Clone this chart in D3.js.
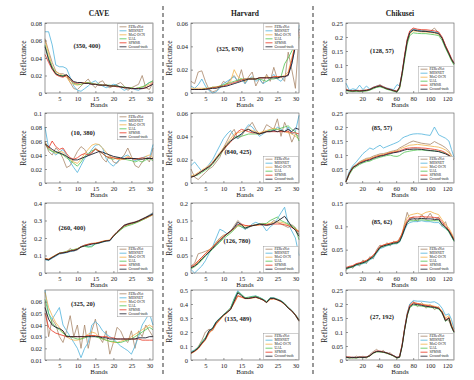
<!DOCTYPE html>
<html>
<head>
<meta charset="utf-8">
<script src="https://cdn.jsdelivr.net/npm/d3@7"></script>
<style>body{margin:0;background:#fff}</style>
</head>
<body>
<div id="chart"></div>
<script>
var W = 474, H = 380;

var methods = ["PZResNet", "MHSNET", "MoG-DCN", "UAL", "SPMSR", "Ground-truth"];
var colors = ["#a8876a", "#4fb3dc", "#f2b24a", "#52c452", "#e8321e", "#1c1c2c"];
var datasets = ["CAVE", "Harvard", "Chikusei"];

var bandsS = [1,2,3,4,5,6,7,8,9,10,11,12,13,14,15,16,17,18,19,20,21,22,23,24,25,26,27,28,29,30,31];
var bandsC = [1,5,9,13,17,21,25,29,33,37,41,45,49,53,57,61,64,67,70,73,76,80,85,90,95,100,105,110,114,118,122,125,128];
var xTicksS = [5,10,15,20,25,30];
var xTicksC = [20,40,60,80,100,120];

// reflectance x 1e-3, order: PZResNet, MHSNET, MoG-DCN, UAL, SPMSR, Ground-truth
var cave1 = [
  [62,48,35,25,22,22,20,12,5,4,8,12,16,10,6,12,14,8,6,8,10,12,8,3,6,8,10,20,6,4,12],
  [70,70,55,32,30,30,28,18,8,3,2,5,8,12,14,10,8,6,8,10,9,6,3,5,6,4,3,6,9,12,13],
  [60,45,30,24,22,20,18,12,10,9,10,12,12,11,10,10,9,9,8,8,8,7,6,6,6,5,6,7,8,10,14],
  [55,40,30,22,20,20,20,15,11,10,10,11,12,11,10,10,9,9,9,8,8,7,7,6,6,5,6,7,9,12,14],
  [44,35,27,21,19,18,20,15,12,11,12,11,11,10,10,9,9,9,8,8,7,7,6,6,5,5,5,5,6,8,12],
  [53,38,28,22,20,19,21,17,13,12,12,11,11,10,10,9,9,9,8,8,8,7,6,6,5,5,5,5,6,8,10]
];
var harv1 = [
  [10,8,18,19,10,3,1,2,5,10,8,12,15,10,20,8,14,18,6,12,8,16,10,22,12,14,10,35,20,4,50],
  [6,4,7,12,6,2,0,1,4,8,10,12,14,10,12,8,12,14,10,12,8,10,12,16,12,10,14,16,25,40,58],
  [4,4,4,4,4,4,5,5,6,6,8,10,20,14,12,10,12,13,12,13,13,14,13,14,14,14,15,18,30,42,50],
  [3,3,3,3,4,4,5,5,6,7,8,9,10,11,12,12,12,12,12,12,11,10,12,12,13,14,25,30,36,42,48],
  [3,3,3,3,3.5,4,4.5,5,5.5,6,7,8,9,10,11,12,12,12,12,13,13,13,13,14,14,14,14,16,28,42,52],
  [3,3,3,3,3,3.5,4,4,5,5.5,6,7,8,9,10,11,12,12,12,13,13,13,13,13,13,14,14,15,25,40,55]
];
var chik1 = [
  [14,9,9,10,9,10,11,14,20,24,30,22,16,14,10,7,22,72,134,190,220,228,225,224,222,220,232,214,198,168,142,120,106],
  [35,10,15,12,28,12,25,14,20,25,28,22,18,15,12,30,25,72,132,188,218,228,224,222,220,220,218,215,198,168,142,122,106],
  [10,7,6,7,6,7,8,11,17,21,24,19,14,11,7,4,18,68,128,182,212,222,220,218,218,216,214,210,194,164,138,118,104],
  [8,6,5,6,5,6,7,10,15,20,22,18,13,10,6,3,15,62,120,175,205,215,213,212,212,210,208,205,188,160,135,115,100],
  [12,9,8,9,8,9,10,13,20,24,27,22,17,13,9,6,22,75,138,192,222,232,228,226,226,224,222,218,200,170,145,124,108],
  [10,8,7,8,7,8,9,12,18,22,25,20,15,12,8,5,20,70,130,185,215,225,222,220,220,218,216,212,195,165,140,120,105]
];
var cave2 = [
  [60,45,40,50,45,35,22,25,35,45,52,48,40,42,50,45,35,30,40,30,28,35,40,50,38,25,22,30,36,30,50],
  [80,50,45,40,44,48,40,30,22,15,25,35,40,48,54,55,50,35,28,24,30,35,38,40,35,32,34,36,38,35,55],
  [58,50,46,42,45,44,38,34,30,28,34,42,48,54,56,55,50,44,38,36,34,33,35,38,36,34,35,34,38,40,36],
  [56,48,45,44,42,40,36,32,28,24,30,38,42,46,48,46,42,38,35,34,36,35,34,33,32,30,32,30,33,35,32],
  [55,50,60,52,48,50,42,36,34,36,40,42,40,44,48,46,42,38,36,36,35,35,34,36,35,34,35,36,35,36,34],
  [56,52,48,45,43,41,38,35,33,33,35,37,39,41,43,45,44,42,40,38,37,36,35,35,35,35,34,34,35,35,35]
];
var harv2 = [
  [12,5,3,6,9,12,14,18,22,30,36,42,46,38,40,45,48,52,46,42,44,50,48,46,55,40,52,45,35,42,40],
  [15,18,14,10,12,16,20,26,32,38,42,45,40,38,42,46,50,48,44,40,42,44,46,44,48,46,44,48,42,44,58],
  [6,7,9,11,13,15,18,22,26,30,34,38,42,43,44,45,46,45,44,43,44,45,46,47,46,45,44,43,42,40,38],
  [5,6,7,9,11,13,16,20,24,28,32,36,39,40,40,41,42,42,42,42,43,44,45,46,46,47,48,49,46,44,36],
  [5,6,8,10,12,14,17,21,25,28,32,35,40,44,46,45,44,43,43,42,43,44,44,44,44,44,44,44,43,43,42],
  [5,6,8,10,12,14,17,21,25,29,33,36,38,40,42,45,46,44,43,42,43,44,44,45,44,45,44,46,44,47,46]
];
var chik2 = [
  [5,38,58,66,76,82,88,90,96,100,104,105,108,112,115,118,125,130,135,140,145,150,146,142,140,138,148,140,134,126,114,98,88],
  [8,42,62,75,90,105,115,125,120,128,135,125,130,135,140,145,150,160,165,168,172,175,176,175,172,170,200,172,166,160,150,120,92],
  [6,36,56,64,74,80,85,88,92,97,100,102,106,110,112,115,120,125,128,132,135,136,138,136,134,132,130,128,124,118,108,95,86],
  [4,30,50,58,66,72,76,78,84,88,92,95,98,100,96,95,98,105,110,112,114,116,118,118,116,115,115,113,110,106,100,92,84],
  [4,34,55,63,72,78,82,85,90,95,98,100,104,108,110,112,115,118,122,124,125,126,126,125,124,122,120,117,114,108,100,92,84],
  [5,35,55,62,70,75,80,82,88,92,96,98,102,105,108,110,112,115,118,120,120,121,121,120,118,116,114,112,108,104,98,90,82]
];
var cave3 = [
  [78,74,86,98,110,114,120,140,125,132,150,160,165,170,168,174,180,184,188,215,236,255,275,282,288,292,300,310,320,332,345],
  [76,72,84,96,108,112,116,122,126,134,152,156,150,155,166,170,176,182,184,208,230,250,268,276,282,288,296,306,316,330,342],
  [84,80,92,104,114,117,122,128,132,138,150,156,162,168,172,176,182,186,188,212,230,248,266,274,280,286,294,304,312,322,332],
  [80,76,90,102,114,118,124,130,134,140,150,152,148,150,166,172,178,184,186,210,228,246,262,270,276,284,292,302,312,324,334],
  [82,78,90,102,113,116,120,127,130,137,150,158,164,168,170,174,180,185,186,212,233,253,270,278,284,290,297,306,315,325,335],
  [80,75,88,100,112,115,118,125,128,135,148,155,160,165,168,172,178,183,185,210,232,252,272,280,285,290,298,308,318,328,338]
];
var harv3 = [
  [20,28,55,58,62,66,72,88,100,108,110,118,135,150,140,125,130,135,138,140,142,138,140,150,145,140,135,130,138,130,110],
  [10,0,10,20,35,55,75,100,125,120,112,118,128,140,132,125,130,140,145,140,135,120,132,140,155,172,188,140,120,100,50],
  [15,22,32,44,56,66,76,86,96,106,112,118,126,134,136,134,134,135,136,137,138,140,142,145,146,145,142,138,132,126,120],
  [12,18,26,36,48,58,68,78,88,98,106,114,124,136,132,128,132,136,138,140,140,142,150,155,160,150,145,140,135,128,95],
  [18,24,35,45,55,64,74,84,94,104,112,120,128,138,140,136,135,136,137,138,138,138,139,140,140,140,138,135,130,124,118],
  [15,20,28,40,50,60,70,82,92,102,112,120,130,145,138,128,132,135,137,140,138,136,138,142,148,155,162,148,132,122,105]
];
var chik3 = [
  [5,15,10,20,15,28,20,35,30,50,60,55,65,58,68,62,75,82,108,130,115,120,110,125,115,128,112,120,100,110,88,84,68],
  [8,11,13,16,18,20,22,28,32,42,52,55,58,60,62,63,66,78,92,104,108,110,110,112,110,110,108,108,100,95,88,78,68],
  [10,13,15,19,21,24,27,31,37,46,56,60,62,64,66,68,72,86,104,118,124,126,128,125,130,132,128,125,114,104,96,86,74],
  [9,11,13,17,19,21,24,29,34,44,54,57,59,61,63,64,67,80,96,108,112,112,113,114,113,112,112,112,104,96,88,78,68],
  [12,14,16,20,22,24,27,32,38,47,57,60,62,64,66,67,72,85,100,112,118,120,120,121,120,120,119,118,110,100,92,82,72],
  [10,12,14,18,20,22,25,30,35,45,55,58,60,62,64,65,68,80,95,108,115,116,116,117,116,116,115,115,105,98,90,80,70]
];
var cave4 = [
  [60,30,45,40,30,25,35,48,30,40,20,40,20,35,45,30,25,35,15,25,38,35,28,25,35,20,35,30,40,35,30],
  [70,50,45,50,55,40,35,30,25,20,12,20,25,40,43,40,35,32,30,28,25,22,20,18,15,22,30,40,45,50,40],
  [68,55,48,42,38,34,30,28,27,27,28,30,32,34,33,30,28,27,26,25,25,26,27,28,30,32,34,36,38,40,38],
  [62,50,42,38,36,33,31,30,29,28,28,29,30,31,30,29,28,27,26,26,25,25,26,27,28,30,32,34,36,38,36],
  [50,38,35,33,32,31,30,30,30,30,30,30,31,31,31,30,30,30,29,29,28,28,28,28,28,28,28,27,27,27,27],
  [55,45,40,38,37,35,30,30,30,30,30,30,30,30,30,30,29,29,28,28,28,28,28,28,28,28,29,29,29,30,30]
];
var harv4 = [
  [55,70,95,140,200,220,210,260,290,325,345,370,430,490,465,440,442,450,455,445,432,415,445,442,432,420,402,375,352,318,275],
  [60,72,90,125,160,200,230,275,300,322,345,372,440,495,470,445,448,455,458,448,435,418,445,445,435,425,405,378,355,325,290],
  [45,60,80,112,142,190,215,255,285,315,335,360,405,455,448,438,438,442,446,438,428,410,432,436,428,416,396,370,350,320,282],
  [52,68,90,128,160,205,228,272,298,322,345,372,435,485,468,445,448,452,456,446,434,416,442,442,434,422,404,376,354,324,288],
  [48,62,82,115,145,195,220,260,290,318,340,365,410,460,450,440,440,445,448,440,428,412,435,438,430,418,398,372,352,322,285],
  [50,65,85,120,150,210,225,270,295,320,340,360,420,480,460,440,440,445,450,440,430,410,440,440,430,420,400,370,350,320,280]
];
var chik4 = [
  [8,12,6,14,8,14,6,20,30,38,28,34,22,26,12,10,14,55,112,162,200,210,190,205,185,198,180,190,165,148,140,118,98],
  [10,9,10,9,11,10,11,16,26,31,31,29,26,21,16,9,12,52,115,168,200,212,210,210,208,206,208,200,185,160,165,145,110],
  [9,8,9,8,10,9,10,14,24,30,30,28,24,20,14,7,10,52,112,162,192,204,202,200,198,196,192,188,175,150,158,128,105],
  [9,7,8,7,9,8,9,14,24,29,29,27,24,19,14,7,9,48,108,158,186,196,194,192,190,188,186,182,168,138,148,118,98],
  [12,10,10,9,11,10,11,16,26,32,32,29,26,21,16,9,12,55,115,165,195,205,202,198,195,193,190,186,172,142,152,122,102],
  [10,8,9,8,10,9,10,15,25,30,30,28,25,20,15,8,10,50,110,160,190,200,198,195,192,190,188,184,170,140,150,120,100]
];

var yTicks = {
  a: [0,0.02,0.04,0.06,0.08],
  b: [0,0.02,0.04,0.06],
  c: [0,0.05,0.1,0.15,0.2,0.25],
  d: [0,0.02,0.04,0.06,0.08,0.1],
  e: [0,0.1,0.2,0.3,0.4],
  f: [0,0.05,0.1,0.15,0.2],
  g: [0,0.05,0.1,0.15],
  h: [0.01,0.02,0.03,0.04,0.05,0.06],
  i: [0,0.1,0.2,0.3,0.4,0.5]
};

var panels = [
  {col:0,row:0,d:cave1,y:[0,0.08],t:"a",lab:"(350, 400)",lx:42,ly:24,leg:"top"},
  {col:1,row:0,d:harv1,y:[0,0.06],t:"b",lab:"(325, 670)",lx:39,ly:27,leg:"top"},
  {col:2,row:0,d:chik1,y:[0,0.25],t:"c",lab:"(128, 57)",lx:36,ly:29,leg:"bottom"},
  {col:0,row:1,d:cave2,y:[0,0.1],t:"d",lab:"(10, 380)",lx:38,ly:21,leg:"top"},
  {col:1,row:1,d:harv2,y:[0,0.06],t:"b",lab:"(840, 425)",lx:47,ly:40,leg:"bottom"},
  {col:2,row:1,d:chik2,y:[0,0.25],t:"c",lab:"(85, 57)",lx:36,ly:16,leg:"bottom"},
  {col:0,row:2,d:cave3,y:[0,0.4],t:"e",lab:"(260, 400)",lx:27,ly:26,leg:"bottom"},
  {col:1,row:2,d:harv3,y:[0,0.2],t:"f",lab:"(126, 780)",lx:46,ly:39,leg:"bottom"},
  {col:2,row:2,d:chik3,y:[0,0.15],t:"g",lab:"(85, 62)",lx:36,ly:20,leg:"bottom"},
  {col:0,row:3,d:cave4,y:[0.01,0.07],t:"h",lab:"(325, 20)",lx:38,ly:15,leg:"top"},
  {col:1,row:3,d:harv4,y:[0,0.5],t:"i",lab:"(135, 489)",lx:47,ly:30,leg:"bottom"},
  {col:2,row:3,d:chik4,y:[0,0.25],t:"c",lab:"(27, 192)",lx:36,ly:28,leg:"bottom"}
];

var colLeft = [45, 191, 346];
var rowTop = [23, 113, 203, 290];
var pw = 108, ph = 70;
var serif = "Liberation Serif, Times New Roman, serif";

var svg = d3.select("#chart").append("svg")
    .attr("width", W)
    .attr("height", H)
    .style("font-family", serif);

// dashed column separators
[163, 313].forEach(function (sx) {
  svg.append("line")
      .attr("x1", sx).attr("x2", sx)
      .attr("y1", 6).attr("y2", 376)
      .attr("stroke", "#555")
      .attr("stroke-width", 1.2)
      .attr("stroke-dasharray", "4,3");
});

// column titles
datasets.forEach(function (name, i) {
  svg.append("text")
      .attr("x", colLeft[i] + pw / 2)
      .attr("y", 16)
      .attr("text-anchor", "middle")
      .attr("font-size", 7.5)
      .attr("font-weight", "bold")
      .attr("fill", "#222")
      .text(name);
});

var fmt = function (v) { return v === 0 ? "0" : String(+v.toFixed(3)); };

panels.forEach(function (p) {
  var isC = p.col === 2;
  var bands = isC ? bandsC : bandsS;
  var x = d3.scaleLinear().domain(isC ? [1, 128] : [1, 31]).range([0, pw]);
  var y = d3.scaleLinear().domain(p.y).range([ph, 0]);

  var g = svg.append("g")
      .attr("transform", "translate(" + colLeft[p.col] + "," + rowTop[p.row] + ")");

  g.append("rect")
      .attr("width", pw).attr("height", ph)
      .attr("fill", "#fff");

  var line = d3.line()
      .x(function (d, i) { return x(bands[i]); })
      .y(function (d) { return y(d / 1000); });

  p.d.forEach(function (s, k) {
    g.append("path")
        .attr("d", line(s))
        .attr("fill", "none")
        .attr("stroke", colors[k])
        .attr("stroke-width", k === 5 ? 0.9 : 0.8)
        .attr("stroke-linejoin", "round");
  });

  g.append("rect")
      .attr("width", pw).attr("height", ph)
      .attr("fill", "none")
      .attr("stroke", "#555")
      .attr("stroke-width", 0.6);

  var ya = g.append("g")
      .call(d3.axisLeft(y).tickValues(yTicks[p.t]).tickSize(-2).tickPadding(3).tickFormat(fmt));
  var xa = g.append("g")
      .attr("transform", "translate(0," + ph + ")")
      .call(d3.axisBottom(x).tickValues(isC ? xTicksC : xTicksS).tickSize(-2).tickPadding(3));
  [ya, xa].forEach(function (a) {
    a.select(".domain").remove();
    a.selectAll("line").attr("stroke", "#555").attr("stroke-width", 0.6);
    a.selectAll("text").attr("font-family", serif).attr("font-size", 6.5).attr("fill", "#222");
  });

  g.append("text")
      .attr("transform", "translate(-19," + (ph / 2) + ") rotate(-90)")
      .attr("text-anchor", "middle")
      .attr("font-size", 7.5)
      .attr("fill", "#222")
      .text("Reflectance");

  g.append("text")
      .attr("x", pw / 2)
      .attr("y", ph + 14)
      .attr("text-anchor", "middle")
      .attr("font-size", 7)
      .attr("fill", "#222")
      .text("Bands");

  g.append("text")
      .attr("x", p.lx)
      .attr("y", p.ly)
      .attr("text-anchor", "middle")
      .attr("dominant-baseline", "middle")
      .attr("font-size", 6.5)
      .attr("font-weight", "bold")
      .attr("fill", "#222")
      .text(p.lab);

  // legend
  var lw = 35, lh = 26;
  var lg = g.append("g")
      .attr("transform", "translate(" + (pw - lw - 0.5) + "," + (p.leg === "top" ? 0.8 : ph - lh - 0.8) + ")");
  lg.append("rect")
      .attr("width", lw).attr("height", lh)
      .attr("fill", "#fff")
      .attr("stroke", "#888")
      .attr("stroke-width", 0.4);
  methods.forEach(function (m, k) {
    var yy = 3 + k * 4;
    lg.append("line")
        .attr("x1", 2).attr("x2", 9)
        .attr("y1", yy).attr("y2", yy)
        .attr("stroke", colors[k])
        .attr("stroke-width", 0.8);
    lg.append("text")
        .attr("x", 11)
        .attr("y", yy)
        .attr("dominant-baseline", "middle")
        .attr("font-size", 3.6)
        .attr("fill", "#222")
        .text(m);
  });
});
</script>
</body>
</html>
